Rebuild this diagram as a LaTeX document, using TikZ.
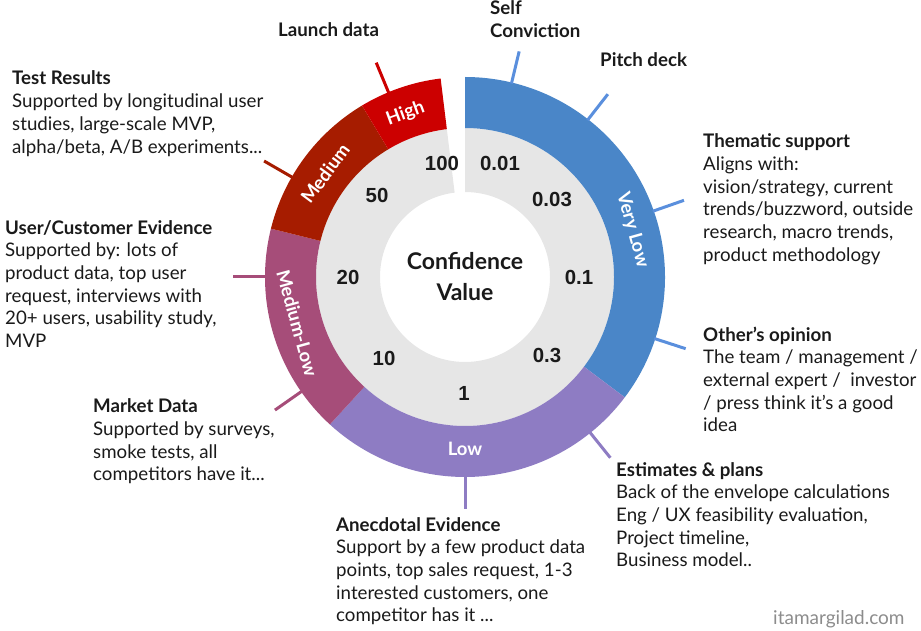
\documentclass[tikz,border=0pt]{standalone}
\usepackage{fontspec}
\setmainfont{Lato}
\newfontfamily\numfont{Liberation Sans}
\definecolor{cblue}{HTML}{4A86C8}
\definecolor{cbluetick}{HTML}{5A8FDD}
\definecolor{cpurple}{HTML}{8E7CC3}
\definecolor{cplum}{HTML}{A64D79}
\definecolor{cberry}{HTML}{A61C00}
\definecolor{cred}{HTML}{CC0000}
\definecolor{cgrey}{HTML}{E6E6E6}
\definecolor{ctext}{HTML}{1A1A1A}
\definecolor{cwater}{HTML}{8C8C8C}
\newcommand{\annsec}[5]{\fill[#1] (#2:#5) arc[start angle=#2, end angle=#3, radius=#5] -- (#3:#4) arc[start angle=#3, end angle=#2, radius=#4] -- cycle;}
\begin{document}
\begin{tikzpicture}[x=1pt,y=1pt,
  lbl/.style={anchor=base west, align=left, inner sep=0pt, text=ctext, font=\fontsize{18.7}{22.7}\selectfont},
  num/.style={font=\numfont\bfseries\fontsize{20.4}{24}\selectfont, inner sep=0pt, text=ctext},
  seglbl/.style={text=white, font=\bfseries\fontsize{18.5}{20}\selectfont, inner sep=0pt},
  tickline/.style={line width=3pt}
]
\useasboundingbox (0,0) rectangle (921,630);
\begin{scope}[shift={(465,353)}]
  \annsec{cgrey}{97}{450}{85}{149}
  \annsec{cblue}{-37}{90}{149}{200}
  \annsec{cpurple}{-132.5}{-37}{149}{200}
  \annsec{cplum}{166}{227.5}{149}{200}
  \annsec{cberry}{121}{166}{149}{200}
  \annsec{cred}{97}{121}{149}{200}
  % tick coordinates
  \foreach \n/\a in {sc/76.5, pd/52, ts/19.3, oo/-18, ep/-51.2, ae/-90, md/215, uc/180, tr/150, ld/112.5}{
    \coordinate (\n-in) at (\a:199);
    \coordinate (\n-out) at (\a:232);
  }
  % segment labels
  \node[seglbl, rotate=20] (sHigh) at (110:174) {High};
  \node[seglbl, rotate=53.5] (sMed) at (143.5:174) {Medium};
  \node[seglbl, rotate=-74.6] (sMedLow) at (195.4:174) {Medium-Low};
  \node[seglbl] (sLow) at (-90:172) {Low};
  \node[seglbl, rotate=-74.3] (sVLow) at (15.7:174) {Very Low};
\end{scope}
\draw[tickline, cbluetick] (sc-in) -- (sc-out);
\draw[tickline, cbluetick] (pd-in) -- (pd-out);
\draw[tickline, cbluetick] (ts-in) -- (ts-out);
\draw[tickline, cbluetick] (oo-in) -- (oo-out);
\draw[tickline, cpurple] (ep-in) -- (ep-out);
\draw[tickline, cpurple] (ae-in) -- (ae-out);
\draw[tickline, cplum] (md-in) -- (md-out);
\draw[tickline, cplum] (uc-in) -- (uc-out);
\draw[tickline, cberry] (tr-in) -- (tr-out);
\draw[tickline, cred] (ld-in) -- (ld-out);
% numbers
\node[num] (n100) at (442,467) {100};
\node[num] (n001) at (500,467) {0.01};
\node[num] (n003) at (552,431) {0.03};
\node[num] (n01) at (579,353) {0.1};
\node[num] (n03) at (547,275) {0.3};
\node[num] (n1) at (464,237) {1};
\node[num] (n10) at (384,272) {10};
\node[num] (n20) at (348,353) {20};
\node[num] (n50) at (377,435) {50};
% center
\node[align=center, inner sep=0pt, text=ctext, font=\bfseries\fontsize{23}{31}\selectfont] (center) at (465,353) {Confidence\\Value};
% labels (base anchor = baseline of last line)
\node[lbl] (tLaunch) at (278,593.3) {\textbf{Launch data}};
\node[lbl, font=\fontsize{18.7}{22.3}\selectfont] (tSelf) at (490,592.7) {\textbf{Self}\\\textbf{Conviction}};
\node[lbl] (tPitch) at (600,563.3) {\textbf{Pitch deck}};
\node[lbl] (tThem) at (703,368.8) {\textbf{Thematic support}\\Aligns with:\\vision/strategy, current\\trends/buzzword, outside\\research, macro trends,\\product methodology};
\node[lbl] (tOther) at (703,198.2) {\textbf{Other’s opinion}\\The team / management /\\external expert /\ \ investor\\/ press think it’s a good\\idea};
\node[lbl] (tEst) at (616,63.2) {\textbf{Estimates \& plans}\\Back of the envelope calculations\\Eng / UX feasibility evaluation,\\Project timeline,\\Business model..};
\node[lbl] (tAnec) at (336,8.2) {\textbf{Anecdotal Evidence}\\Support by a few product data\\points, top sales request, 1-3\\interested customers, one\\competitor has it ...};
\node[lbl] (tMarket) at (93,149.2) {\textbf{Market Data}\\Supported by surveys,\\smoke tests, all\\competitors have it...};
\node[lbl] (tUser) at (5,282.5) {\textbf{User/Customer Evidence}\\Supported by: lots of\\product data, top user\\request, interviews with\\20+ users, usability study,\\MVP};
\node[lbl] (tTest) at (12,476.9) {\textbf{Test Results}\\Supported by longitudinal user\\studies, large-scale MVP,\\alpha/beta, A/B experiments...};
\node[anchor=base west, inner sep=0pt, text=cwater, font=\fontsize{19}{20}\selectfont] (water) at (773,6) {itamargilad.com};
\end{tikzpicture}
\end{document}
